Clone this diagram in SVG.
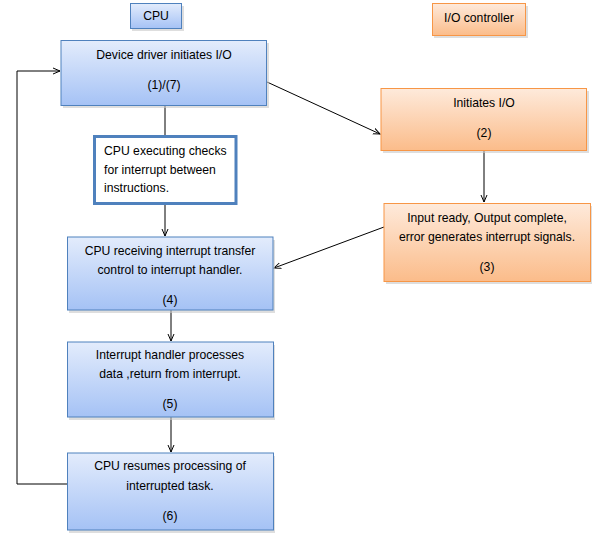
<svg xmlns="http://www.w3.org/2000/svg" width="594" height="536" viewBox="0 0 594 536">
<defs>
<linearGradient id="gb" x1="0" y1="0" x2="0" y2="1"><stop offset="0" stop-color="#e3ecfc"/><stop offset="1" stop-color="#a5c2f5"/></linearGradient>
<linearGradient id="go" x1="0" y1="0" x2="0" y2="1"><stop offset="0" stop-color="#feeadb"/><stop offset="1" stop-color="#fbbc8a"/></linearGradient>
<marker id="ar" markerWidth="8" markerHeight="8" refX="7" refY="4" orient="auto" markerUnits="userSpaceOnUse"><path d="M0,1 L7,4 L0,7" fill="none" stroke="#000" stroke-width="1"/></marker>
</defs>
<style>
.b{fill:url(#gb);stroke:#4f81bd;stroke-width:1}
.o{fill:url(#go);stroke:#f79646;stroke-width:1}
.s{fill:#c8c8c8;opacity:.6}
.t{font-family:"Liberation Sans",Arial,sans-serif;font-size:12.2px;fill:#000;text-anchor:middle}
.tl{font-family:"Liberation Sans",Arial,sans-serif;font-size:12.2px;fill:#000}
.c{fill:none;stroke:#000;stroke-width:1}
</style>
<rect width="594" height="536" fill="#fff"/>
<g id="connectors">
<path class="c" d="M67,484 H17 V71 H60" marker-end="url(#ar)"/>
<path class="c" d="M165,105 V135"/>
<path class="c" d="M165,204 V236" marker-end="url(#ar)"/>
<path class="c" d="M267,82 L380,134" marker-end="url(#ar)"/>
<path class="c" d="M484,150 V202" marker-end="url(#ar)"/>
<path class="c" d="M384,227 L274,268" marker-end="url(#ar)"/>
<path class="c" d="M171,310 V341" marker-end="url(#ar)"/>
<path class="c" d="M171,417 V452" marker-end="url(#ar)"/>
</g>
<g id="cpu"><rect class="s" x="132" y="6" width="52" height="25"/><rect class="b" x="130.5" y="3.5" width="51" height="25"/><text class="t" x="156" y="20">CPU</text></g>
<g id="ioc"><rect class="s" x="434" y="6" width="94" height="32"/><rect class="o" x="432.5" y="3.5" width="93" height="32"/><text class="t" x="479" y="22">I/O controller</text></g>
<g id="n1"><rect class="s" x="63" y="43" width="206" height="65"/><rect class="b" x="61" y="40.5" width="205.5" height="65"/><text class="t" x="164" y="59">Device driver initiates I/O</text><text class="t" x="164" y="89">(1)/(7)</text></g>
<g id="n2"><rect class="s" x="383" y="91" width="206" height="62"/><rect class="o" x="381" y="88.5" width="205.5" height="62"/><text class="t" x="484" y="107">Initiates I/O</text><text class="t" x="484" y="137">(2)</text></g>
<g id="nc"><rect x="94.5" y="136.5" width="141.5" height="67" fill="#fff" stroke="#4f81bd" stroke-width="3"/><text class="tl" x="104" y="155">CPU executing checks</text><text class="tl" x="104" y="174">for interrupt between</text><text class="tl" x="104" y="192">instructions.</text></g>
<g id="n3"><rect class="s" x="386" y="206" width="206" height="78"/><rect class="o" x="384" y="203.5" width="206.5" height="78"/><text class="t" x="487" y="222">Input ready, Output complete,</text><text class="t" x="487" y="241">error generates interrupt signals.</text><text class="t" x="487" y="271">(3)</text></g>
<g id="n4"><rect class="s" x="69" y="240" width="206" height="73"/><rect class="b" x="67.5" y="237" width="205.5" height="73"/><text class="t" x="170" y="255">CPU receiving interrupt transfer</text><text class="t" x="170" y="274">control to interrupt handler.</text><text class="t" x="170" y="304">(4)</text></g>
<g id="n5"><rect class="s" x="69" y="345" width="206" height="75"/><rect class="b" x="67.5" y="342" width="206" height="75"/><text class="t" x="170" y="359">Interrupt handler processes</text><text class="t" x="170" y="378">data ,return from interrupt.</text><text class="t" x="170" y="408">(5)</text></g>
<g id="n6"><rect class="s" x="69" y="456" width="206" height="77"/><rect class="b" x="67.5" y="453" width="206" height="77"/><text class="t" x="170" y="470">CPU resumes processing of</text><text class="t" x="170" y="490">interrupted task.</text><text class="t" x="170" y="520">(6)</text></g>
</svg>
